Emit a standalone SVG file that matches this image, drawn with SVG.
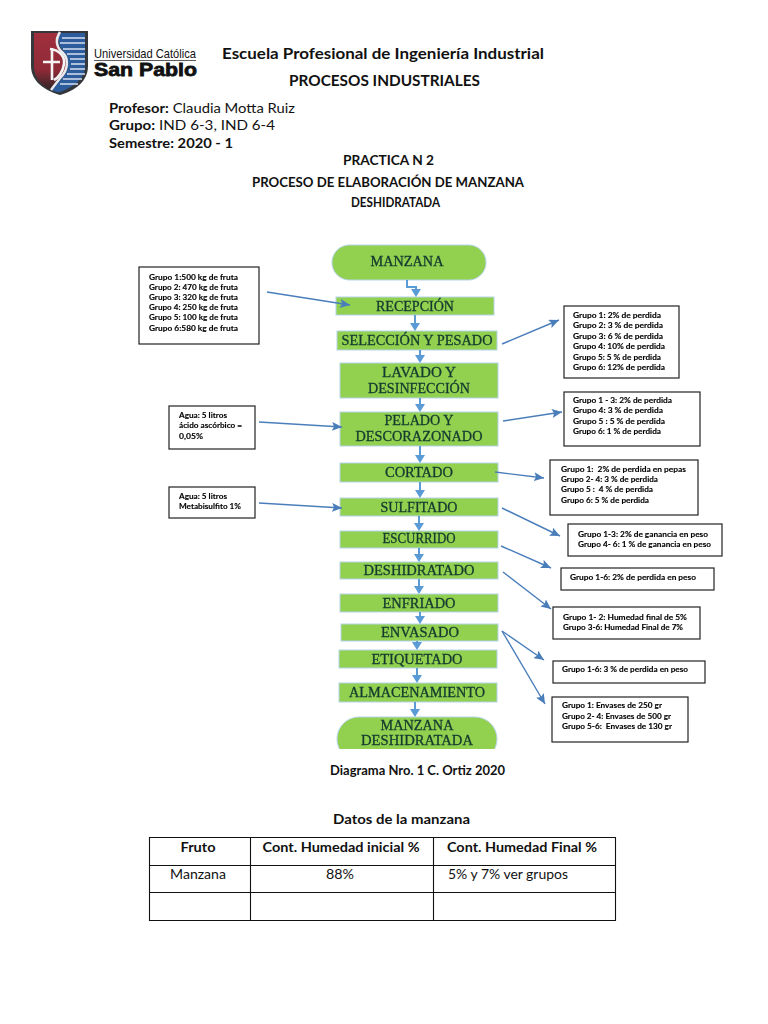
<svg xmlns="http://www.w3.org/2000/svg" width="768" height="1024" viewBox="0 0 768 1024">
<style>
text{font-family:"Lato","Open Sans","Liberation Sans",sans-serif;fill:#111}
.h{font-weight:700;font-size:16px}
.hs{font-weight:700;font-size:14px}
.c{text-anchor:middle}
.s{font-weight:700;font-size:8px;fill:#000;stroke:#000;stroke-width:.12;filter:url(#soft)}
.box{fill:#fff;stroke:#222;stroke-width:1.2}
.step{fill:#92d050;stroke:#b5d3ea;stroke-width:1}
.lab{font-family:"Liberation Serif","DejaVu Serif",serif;fill:#143a2e;text-anchor:middle;stroke:#143a2e;stroke-width:.3;filter:url(#soft)}
.l1{font-size:14px}
.l2{font-size:14.500px}
.arr{fill:none;stroke:#4a7ebb;stroke-width:1.4;marker-end:url(#a)}
.dn{fill:none;stroke:#5b9bd5;stroke-width:2;marker-end:url(#d)}
.tl{stroke:#111;stroke-width:1.1}
</style>
<defs>
<filter id="soft" x="-5%" y="-20%" width="110%" height="140%"><feGaussianBlur stdDeviation=".25"/></filter>
<marker id="a" markerUnits="userSpaceOnUse" markerWidth="11" markerHeight="9" refX="10" refY="4.5" orient="auto"><path d="M0 0L10 4.5L0 9L2 4.5Z" fill="#4a7ebb"/></marker>
<marker id="d" markerUnits="userSpaceOnUse" markerWidth="9" markerHeight="11" refX="4" refY="5" orient="auto"><path d="M0 0L8 5L0 10Z" fill="#5b9bd5"/></marker>
<clipPath id="cl"><rect x="330" y="710" width="175" height="39"/></clipPath>
<linearGradient id="rd" x1="0" y1="0" x2="0" y2="1"><stop offset="0" stop-color="#a12f3d"/><stop offset=".65" stop-color="#8f2a37"/><stop offset="1" stop-color="#2f2526"/></linearGradient>
</defs>
<rect width="768" height="1024" fill="#fff"/>

<g id="logo">
<path d="M31 31H88V66C88 82 74 91 60 95C46 91 31 82 31 66Z" fill="#34383c"/>
<path d="M34 33H60C55 40 56 47 63 53C69 59 68 70 61 77C57 82 54 86 51 90C42 86 34 78 34 66Z" fill="url(#rd)"/>
<path d="M61 33H85V66C85 78 74 87 60 92C54 92 52 90 52 90C55 86 58 82 62 78C70 70 70 58 64 52C58 46 57 39 61 33Z" fill="#2d5c9c"/>
<path d="M62 38H85M60 43H85M63 49H85M67 54H85M70 59H85M71 64H85M70 69H85M67 74H85M63 79H82M60 84H78" stroke="#d5e0ee" stroke-width="1.700" fill="none"/>
<path d="M60 32C55 40 56 47 63 53C69 59 68 70 61 77C57 82 54 86 51 90" stroke="#e8eaee" stroke-width="2.500" fill="none"/>
<path d="M50 49C60 50 65 57 64 64C63 72 58 78 54 80M52 48V80M43 62H60" stroke="#f4f4f4" stroke-width="2.600" fill="none"/>
<text x="94" y="58" font-size="13" style="font-family:'Liberation Sans',sans-serif" textLength="102" lengthAdjust="spacingAndGlyphs">Universidad Católica</text>
<path d="M94 60.500H196" stroke="#333" stroke-width=".8"/>
<text x="94" y="76" font-size="19" font-weight="700" stroke="#111" stroke-width=".8" style="font-family:'Liberation Sans',sans-serif" textLength="103" lengthAdjust="spacingAndGlyphs">San Pablo</text>
</g>

<g id="header">
<text class="h" x="222" y="59" textLength="322" lengthAdjust="spacingAndGlyphs">Escuela Profesional de Ingeniería Industrial</text>
<text class="h" x="289" y="86" textLength="191" lengthAdjust="spacingAndGlyphs">PROCESOS INDUSTRIALES</text>
<text x="109" y="113" font-size="14" textLength="186" lengthAdjust="spacingAndGlyphs"><tspan font-weight="700">Profesor:</tspan>  Claudia Motta Ruiz</text>
<text x="109" y="130" font-size="14" textLength="166" lengthAdjust="spacingAndGlyphs"><tspan font-weight="700">Grupo:</tspan> IND 6-3, IND 6-4</text>
<text class="hs" x="109" y="148" textLength="124" lengthAdjust="spacingAndGlyphs">Semestre: 2020 - 1</text>
<text class="hs" x="343" y="165" textLength="91" lengthAdjust="spacingAndGlyphs">PRACTICA N 2</text>
<text class="hs" x="252" y="187" textLength="272" lengthAdjust="spacingAndGlyphs">PROCESO DE ELABORACIÓN DE MANZANA</text>
<text class="hs" x="351" y="207" textLength="89" lengthAdjust="spacingAndGlyphs">DESHIDRATADA</text>
<text class="hs" x="330" y="775" textLength="175" lengthAdjust="spacingAndGlyphs">Diagrama Nro. 1 C. Ortiz 2020</text>
<text class="hs" x="333" y="824" textLength="137" lengthAdjust="spacingAndGlyphs">Datos de la manzana</text>
</g>

<g id="n-manzana"><rect class="step" x="332" y="245" width="154" height="35" rx="17.500" stroke="#5f8f96"/><text class="lab l1" x="407" y="266" textLength="73" lengthAdjust="spacingAndGlyphs">MANZANA</text></g>
<g id="n-recepcion"><rect class="step" x="336" y="297" width="158" height="18"/><text class="lab l1" x="415" y="311" textLength="78" lengthAdjust="spacingAndGlyphs">RECEPCIÓN</text></g>
<g id="n-seleccion"><rect class="step" x="337" y="331" width="160" height="19"/><text class="lab l1" x="417" y="345" textLength="151" lengthAdjust="spacingAndGlyphs">SELECCIÓN Y PESADO</text></g>
<g id="n-lavado"><rect class="step" x="340" y="363" width="158" height="35"/><text class="lab l2" x="419" y="377" textLength="74" lengthAdjust="spacingAndGlyphs">LAVADO Y</text><text class="lab l2" x="419" y="393" textLength="102" lengthAdjust="spacingAndGlyphs">DESINFECCIÓN</text></g>
<g id="n-pelado"><rect class="step" x="340" y="412" width="158" height="34"/><text class="lab l2" x="419" y="425" textLength="69" lengthAdjust="spacingAndGlyphs">PELADO Y</text><text class="lab l2" x="419" y="441" textLength="127" lengthAdjust="spacingAndGlyphs">DESCORAZONADO</text></g>
<g id="n-cortado"><rect class="step" x="340" y="463" width="158" height="19"/><text class="lab l1" x="419" y="477" textLength="68" lengthAdjust="spacingAndGlyphs">CORTADO</text></g>
<g id="n-sulfitado"><rect class="step" x="340" y="498" width="158" height="18"/><text class="lab l1" x="419" y="512" textLength="77" lengthAdjust="spacingAndGlyphs">SULFITADO</text></g>
<g id="n-escurrido"><rect class="step" x="340" y="531" width="158" height="17"/><text class="lab l1" x="419" y="543" textLength="73" lengthAdjust="spacingAndGlyphs">ESCURRIDO</text></g>
<g id="n-deshidratado"><rect class="step" x="340" y="562" width="158" height="17"/><text class="lab l1" x="419" y="575" textLength="111" lengthAdjust="spacingAndGlyphs">DESHIDRATADO</text></g>
<g id="n-enfriado"><rect class="step" x="340" y="594" width="158" height="18"/><text class="lab l1" x="419" y="608" textLength="73" lengthAdjust="spacingAndGlyphs">ENFRIADO</text></g>
<g id="n-envasado"><rect class="step" x="341" y="624" width="157" height="17"/><text class="lab l1" x="420" y="637" textLength="78" lengthAdjust="spacingAndGlyphs">ENVASADO</text></g>
<g id="n-etiquetado"><rect class="step" x="339" y="650" width="158" height="18"/><text class="lab l1" x="417" y="664" textLength="91" lengthAdjust="spacingAndGlyphs">ETIQUETADO</text></g>
<g id="n-almacenamiento"><rect class="step" x="339" y="683" width="158" height="19"/><text class="lab l1" x="417" y="697" textLength="136" lengthAdjust="spacingAndGlyphs">ALMACENAMIENTO</text></g>
<g id="n-final"><rect class="step" clip-path="url(#cl)" x="337" y="717" width="160" height="44" rx="22" stroke="#5f8f96"/><text class="lab l2" x="417" y="730" textLength="73" lengthAdjust="spacingAndGlyphs">MANZANA</text><text class="lab l2" x="417" y="745" textLength="112" lengthAdjust="spacingAndGlyphs">DESHIDRATADA</text></g>

<g id="connectors">
<path class="dn" d="M407 280V287H416V293"/>
<path class="dn" d="M415 315V327"/>
<path class="dn" d="M420 350V359"/>
<path class="dn" d="M420 398V408"/>
<path class="dn" d="M420 446V459"/>
<path class="dn" d="M420 482V494"/>
<path class="dn" d="M419 516V527"/>
<path class="dn" d="M419 548V558"/>
<path class="dn" d="M419 579V590"/>
<path class="dn" d="M420 612V620"/>
<path class="dn" d="M417 641V646"/>
<path class="dn" d="M417 668V679"/>
<path class="dn" d="M415 702V713"/>
<path class="arr" d="M267 292L350 305"/>
<path class="arr" d="M259 422L342 427"/>
<path class="arr" d="M259 503L342 508"/>
<path class="arr" d="M502 344L559 320"/>
<path class="arr" d="M503 421L562 412"/>
<path class="arr" d="M495 472L544 478"/>
<path class="arr" d="M502 508L560 536"/>
<path class="arr" d="M501 546L551 568"/>
<path class="arr" d="M503 572L551 609"/>
<path class="arr" d="M502 631L544 660"/>
<path class="arr" d="M502 631L545 704"/>
</g>

<g id="b-fruta"><rect class="box" x="139" y="267" width="120" height="77"/>
<text class="s" x="149" y="280" textLength="89" lengthAdjust="spacingAndGlyphs">Grupo 1:500 kg de fruta</text>
<text class="s" x="149" y="290" textLength="89" lengthAdjust="spacingAndGlyphs">Grupo 2: 470 kg de fruta</text>
<text class="s" x="149" y="300" textLength="89" lengthAdjust="spacingAndGlyphs">Grupo 3: 320 kg de fruta</text>
<text class="s" x="149" y="310" textLength="89" lengthAdjust="spacingAndGlyphs">Grupo 4: 250 kg de fruta</text>
<text class="s" x="149" y="320" textLength="89" lengthAdjust="spacingAndGlyphs">Grupo 5: 100 kg de fruta</text>
<text class="s" x="149" y="331" textLength="89" lengthAdjust="spacingAndGlyphs">Grupo 6:580 kg de fruta</text></g>
<g id="b-agua1"><rect class="box" x="169" y="406" width="86" height="43"/>
<text class="s" x="179" y="418" textLength="48" lengthAdjust="spacingAndGlyphs">Agua: 5 litros</text>
<text class="s" x="179" y="428" textLength="63" lengthAdjust="spacingAndGlyphs">ácido ascórbico =</text>
<text class="s" x="179" y="439" textLength="24" lengthAdjust="spacingAndGlyphs">0,05%</text></g>
<g id="b-agua2"><rect class="box" x="169" y="487" width="86" height="31"/>
<text class="s" x="179" y="499" textLength="48" lengthAdjust="spacingAndGlyphs">Agua: 5 litros</text>
<text class="s" x="179" y="509" textLength="62" lengthAdjust="spacingAndGlyphs">Metabisulfito 1%</text></g>
<g id="b-perd1"><rect class="box" x="564" y="306" width="115" height="72"/>
<text class="s" x="573" y="318" textLength="88" lengthAdjust="spacingAndGlyphs">Grupo 1: 2% de perdida</text>
<text class="s" x="573" y="328" textLength="90" lengthAdjust="spacingAndGlyphs">Grupo 2: 3 % de perdida</text>
<text class="s" x="573" y="339" textLength="90" lengthAdjust="spacingAndGlyphs">Grupo 3: 6 % de perdida</text>
<text class="s" x="573" y="349" textLength="92" lengthAdjust="spacingAndGlyphs">Grupo 4: 10% de perdida</text>
<text class="s" x="573" y="360" textLength="88" lengthAdjust="spacingAndGlyphs">Grupo 5: 5 % de perdida</text>
<text class="s" x="573" y="370" textLength="92" lengthAdjust="spacingAndGlyphs">Grupo 6: 12% de perdida</text></g>
<g id="b-perd2"><rect class="box" x="564" y="392" width="136" height="54"/>
<text class="s" x="573" y="403" textLength="99" lengthAdjust="spacingAndGlyphs">Grupo 1 - 3: 2% de perdida</text>
<text class="s" x="573" y="413" textLength="90" lengthAdjust="spacingAndGlyphs">Grupo 4: 3 % de perdida</text>
<text class="s" x="573" y="424" textLength="92" lengthAdjust="spacingAndGlyphs">Grupo 5 : 5 % de perdida</text>
<text class="s" x="573" y="434" textLength="88" lengthAdjust="spacingAndGlyphs">Grupo 6: 1 % de perdida</text></g>
<g id="b-perd3"><rect class="box" x="550" y="460" width="148" height="55"/>
<text class="s" x="561" y="472" textLength="125" lengthAdjust="spacingAndGlyphs" xml:space="preserve">Grupo 1:  2% de perdida en pepas</text>
<text class="s" x="561" y="482" textLength="97" lengthAdjust="spacingAndGlyphs">Grupo 2- 4: 3 % de perdida</text>
<text class="s" x="561" y="492" textLength="92" lengthAdjust="spacingAndGlyphs" xml:space="preserve">Grupo 5 :  4 % de perdida</text>
<text class="s" x="561" y="503" textLength="88" lengthAdjust="spacingAndGlyphs">Grupo 6: 5 % de perdida</text></g>
<g id="b-gan"><rect class="box" x="568" y="524" width="154" height="32"/>
<text class="s" x="578" y="537" textLength="130" lengthAdjust="spacingAndGlyphs">Grupo 1-3: 2% de ganancia en peso</text>
<text class="s" x="578" y="547" textLength="133" lengthAdjust="spacingAndGlyphs">Grupo 4- 6: 1 % de ganancia en peso</text></g>
<g id="b-peso1"><rect class="box" x="561" y="568" width="153" height="22"/>
<text class="s" x="570" y="580" textLength="126" lengthAdjust="spacingAndGlyphs">Grupo 1-6: 2% de perdida en peso</text></g>
<g id="b-hum"><rect class="box" x="553" y="607" width="147" height="32"/>
<text class="s" x="563" y="620" textLength="124" lengthAdjust="spacingAndGlyphs">Grupo 1- 2: Humedad final de 5%</text>
<text class="s" x="563" y="630" textLength="120" lengthAdjust="spacingAndGlyphs">Grupo 3-6: Humedad Final de 7%</text></g>
<g id="b-peso2"><rect class="box" x="553" y="661" width="152" height="22"/>
<text class="s" x="562" y="672" textLength="126" lengthAdjust="spacingAndGlyphs">Grupo 1-6: 3 % de perdida en peso</text></g>
<g id="b-env"><rect class="box" x="552" y="697" width="136" height="45"/>
<text class="s" x="562" y="708" textLength="100" lengthAdjust="spacingAndGlyphs">Grupo 1: Envases de 250 gr</text>
<text class="s" x="562" y="719" textLength="109" lengthAdjust="spacingAndGlyphs">Grupo 2- 4: Envases de 500 gr</text>
<text class="s" x="562" y="729" textLength="110" lengthAdjust="spacingAndGlyphs" xml:space="preserve">Grupo 5-6:  Envases de 130 gr</text></g>

<g id="table">
<path class="tl" fill="none" d="M149.500 837.500H615.500V920.500H149.500ZM149.500 865.500H615.500M149.500 892.500H615.500M250.500 837.500V920.500M433.500 837.500V920.500"/>
<text class="hs c" x="198" y="852" textLength="35" lengthAdjust="spacingAndGlyphs">Fruto</text>
<text class="hs c" x="341" y="852" textLength="157" lengthAdjust="spacingAndGlyphs">Cont. Humedad inicial %</text>
<text class="hs c" x="522" y="852" textLength="150" lengthAdjust="spacingAndGlyphs">Cont. Humedad Final %</text>
<text class="c" font-size="14" x="198" y="879" textLength="56" lengthAdjust="spacingAndGlyphs">Manzana</text>
<text class="c" font-size="14" x="340" y="879" textLength="28" lengthAdjust="spacingAndGlyphs">88%</text>
<text class="c" font-size="14" x="508" y="879" textLength="120" lengthAdjust="spacingAndGlyphs">5% y 7% ver grupos</text>
</g>
</svg>
